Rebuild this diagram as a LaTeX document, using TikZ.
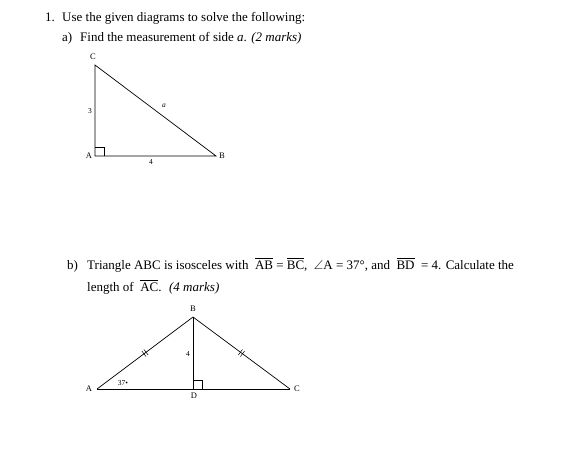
\documentclass[tikz,border=0pt]{standalone}
\usepackage{fontspec}
\usepackage{amssymb}
\setmainfont{Liberation Serif}
\usetikzlibrary{decorations.markings}
\tikzset{
  qtext/.style={anchor=base west, inner sep=0pt, font=\fontsize{13}{15}\selectfont},
  vlabel/.style={inner sep=0pt, font=\fontsize{8.5}{10}\selectfont},
  sidelabel/.style={inner sep=0pt, font=\fontsize{7.5}{9}\selectfont},
  edge/.style={line width=0.7pt},
  ticks/.style={postaction={decorate}, decoration={markings, mark=at position 0.5 with {\draw[line width=0.5pt] (-1.3,-3.5) -- (-1.3,3.5) (1.3,-3.5) -- (1.3,3.5);}}}
}
\begin{document}
\begin{tikzpicture}[x=1pt,y=-1pt]
  \useasboundingbox (0,0) rectangle (562,466);

  % question text
  \node [qtext, name=q1] at (45,21) {1.};
  \node [qtext, name=q1t] at (62,21) {Use the given diagrams to solve the following:};
  \node [qtext, name=qa] at (62,41) {a)};
  \node [qtext, name=qat] at (80,41) {Find the measurement of side \textit{a}. \textit{(2 marks)}};

  % right triangle
  \coordinate (aC) at (95,65);
  \coordinate (aA) at (95,156);
  \coordinate (aB) at (216,156);
  \draw [edge] (aA) -- (aB) -- (aC) -- cycle;
  \draw [line width=0.5pt] (aA) ++(9,0) -- ++(0,-9) -- ++(-9,0);
  \node [vlabel, name=laC] at (93,57) {C};
  \node [vlabel, name=laA] at (89,156) {A};
  \node [vlabel, name=laB] at (222,156) {B};
  \node [sidelabel, name=la3] at (90,111) {3};
  \node [sidelabel, name=la4] at (151,162) {4};
  \node [sidelabel, name=laa] at (164,106) {\textit{a}};

  % second question text
  \node [qtext, name=qb] at (67,269) {b)};
  \node [qtext, name=qbt] at (87,269) {Triangle ABC is isosceles with \ \(\overline{\mbox{AB}}\) = \(\overline{\mbox{BC}}\), \ \(\angle\)A = 37°, and \ \(\overline{\mbox{BD}}\) \ = 4. Calculate the};
  \node [qtext, name=qbt2] at (87,291) {length of \ \(\overline{\mbox{AC}}\). \ \textit{(4 marks)}};

  % isosceles triangle
  \coordinate (bA) at (97,389);
  \coordinate (bB) at (193,317);
  \coordinate (bC) at (290,389);
  \coordinate (bD) at (193,389);
  \draw [edge] (bA) -- (bC);
  \draw [edge, ticks] (bA) -- (bB);
  \draw [edge, ticks] (bB) -- (bC);
  \draw [edge] (bB) -- (bD);
  \draw [line width=0.5pt] (bD) ++(9,0) -- ++(0,-9) -- ++(-9,0);
  \node [vlabel, name=lbB] at (193,309) {B};
  \node [vlabel, name=lbA] at (89,389) {A};
  \node [vlabel, name=lbC] at (297,389) {C};
  \node [vlabel, name=lbD] at (194,396) {D};
  \node [sidelabel, name=lb4] at (188,354) {4};
  \node [sidelabel, name=lb37] at (123,383) {37•};
\end{tikzpicture}
\end{document}
